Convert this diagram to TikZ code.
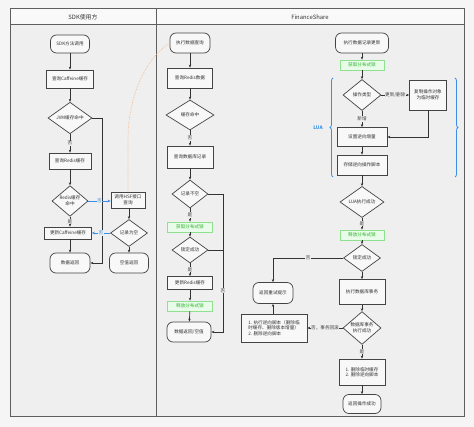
\documentclass[tikz,border=0pt]{standalone}
\usepackage{fontspec}
\setmainfont{Noto Sans CJK SC}
\usetikzlibrary{shapes.geometric,arrows.meta,decorations.pathreplacing}
\definecolor{pagebg}{HTML}{F5F5F5}
\definecolor{lanebg}{HTML}{EFEFEF}
\definecolor{headbg}{HTML}{F9F9F9}
\definecolor{poolline}{HTML}{5E5E5E}
\definecolor{nodeline}{HTML}{444444}
\definecolor{nodefill}{HTML}{F8F8F8}
\definecolor{arr}{HTML}{333333}
\definecolor{blueln}{HTML}{3B8EE6}
\definecolor{greenln}{HTML}{8FE08F}
\definecolor{greenfill}{HTML}{E9FBE9}
\definecolor{greentx}{HTML}{2DB52D}
\definecolor{orangeln}{HTML}{F3B98C}
\tikzset{
  every node/.style={font=\fontsize{4.6}{5.5}\selectfont, text=black!80},
  box/.style={draw=nodeline, fill=nodefill, line width=0.7pt, inner sep=1pt, align=center},
  rbox/.style={box, rounded corners=6pt},
  dia/.style={diamond, draw=nodeline, fill=nodefill, line width=0.7pt, inner sep=0pt, align=center},
  gbox/.style={draw=greenln, fill=greenfill, line width=0.6pt, text=greentx, inner sep=1pt, align=center},
  conn/.style={draw=arr, line width=0.7pt, -{Stealth[length=3pt,width=2.4pt]}},
  plain/.style={draw=arr, line width=0.7pt},
  bconn/.style={draw=blueln, line width=0.8pt, -{Stealth[length=3pt,width=2.6pt]}},
  lbl/.style={fill=lanebg, inner sep=0.6pt, text=black!75},
  blbl/.style={fill=lanebg, inner sep=0.6pt, text=blueln},
}
\begin{document}
\begin{tikzpicture}[x=1pt,y=-1pt]
\useasboundingbox (0,0) rectangle (474,427);
\fill[pagebg] (0,0) rectangle (474,427);
% pool
\fill[lanebg] (10,9) rectangle (464,417);
\fill[headbg] (10,9) rectangle (464,25);
\draw[poolline, line width=1pt] (10,9) rectangle (464,417);
\draw[poolline, line width=1pt] (10,25) -- (464,25);
\draw[poolline, line width=1pt] (156,9) -- (156,417);
\node[font=\fontsize{5.9}{6.5}\selectfont] (t1) at (83,17) {SDK使用方};
\node[font=\fontsize{5.9}{6.5}\selectfont] (t2) at (310,17) {FinanceShare};

% ---------- lane 1 ----------
\node[rbox, minimum width=39pt, minimum height=18pt] (sdk) at (70,44) {SDK方法调用};
\node[box, minimum width=47pt, minimum height=18pt] (cq) at (70,79) {查询Caffeine缓存};
\node[dia, minimum width=44pt, minimum height=30pt] (jvm) at (70,118) {JVM缓存命中};
\node[box, minimum width=42pt, minimum height=16pt] (rq) at (70,161) {查询Redis缓存};
\node[dia, minimum width=36pt, minimum height=25pt] (redis) at (70,201) {Redis缓存\\命中};
\node[box, minimum width=34pt, minimum height=16pt] (hsf) at (128,200) {调用HSF接口\\查询};
\node[box, minimum width=47pt, minimum height=12pt] (upd) at (68,233) {更新Caffeine缓存};
\node[dia, minimum width=37pt, minimum height=27pt] (empty) at (129,233) {记录为空};
\node[rbox, minimum width=40pt, minimum height=20pt] (ret1) at (70,263) {数据返回};
\node[rbox, minimum width=39pt, minimum height=20pt] (ret2) at (129,263) {空值返回};

\draw[conn] (sdk) -- (cq);
\draw[conn] (cq) -- (jvm);
\draw[conn] (jvm) -- node[lbl] {否} (rq);
\draw[conn] (jvm.east) -- (102,118) |- (ret1.east);
\draw[conn] (rq) -- (redis);
\draw[bconn] (redis.east) -- node[blbl] {否} (hsf.west |- redis.east);
\draw[conn] (redis) -- node[lbl] {是} (redis |- upd.north);
\draw[conn] (hsf.south -| empty.north) -- (empty.north);
\draw[bconn] (empty.west) -- node[blbl] {否} (upd.east);
\draw[conn] (upd.south -| ret1.north) -- (ret1.north);
\draw[conn] (empty) -- (ret2);

% ---------- lane 2, query ----------
\node[rbox, minimum width=40pt, minimum height=20pt] (q1) at (190,43) {执行数据查询};
\node[box, minimum width=45pt, minimum height=20pt] (q2) at (190,78) {查询Redis数据};
\node[dia, minimum width=48pt, minimum height=30pt] (hit) at (190,115) {缓存命中};
\node[box, minimum width=46pt, minimum height=22pt] (dbq) at (190,157) {查询数据库记录};
\node[dia, minimum width=36pt, minimum height=28pt] (nonempty) at (190,194) {记录不空};
\node[gbox, minimum width=45pt, minimum height=10pt] (lock1) at (190,227) {获取分布式锁};
\node[dia, minimum width=36pt, minimum height=26pt] (locked1) at (190,250) {锁定成功};
\node[box, minimum width=45pt, minimum height=13pt] (updr) at (190,283) {更新Redis缓存};
\node[gbox, minimum width=45pt, minimum height=10pt] (rel1) at (190,306) {释放分布式锁};
\node[rbox, minimum width=44pt, minimum height=20pt] (ret3) at (189,332) {数据返回/空值};

\draw[conn] (q1) -- (q2);
\draw[conn] (q2) -- (hit);
\draw[conn] (hit) -- node[lbl] {否} (dbq);
\draw[conn] (dbq) -- (nonempty);
\draw[conn] (nonempty) -- node[lbl] {是} (lock1);
\draw[conn] (lock1) -- (locked1);
\draw[conn] (locked1) -- node[lbl] {是} (updr);
\draw[conn] (updr) -- (rel1);
\draw[conn] (rel1) -- (ret3);
\draw[conn] (nonempty.east) -- (223,194) -- node[lbl, pos=0.7] {否} (223,332) -- (ret3.east);
\draw[plain] (locked1.east) -- (223,250);

% orange dashed link
\draw[orangeln, line width=0.7pt, densely dotted] (q1.west) .. controls (150,55) and (128,90) .. (128,140) -- (hsf.north);

% ---------- lane 2, update ----------
\node[rbox, minimum width=53pt, minimum height=20pt] (u1) at (362,43) {执行数据记录更新};
\node[gbox, minimum width=44pt, minimum height=10pt] (lock2) at (362,65) {获取分布式锁};
\node[dia, minimum width=38pt, minimum height=31pt] (optype) at (362,95) {操作类型};
\node[box, minimum width=37pt, minimum height=30pt] (copy) at (428,95) {复制操作对象\\为临时缓存};
\node[box, minimum width=50pt, minimum height=19pt] (setinc) at (362,137) {设置逆向增量};
\node[box, minimum width=50pt, minimum height=20pt] (store) at (362,165) {存储逆向操作脚本};
\node[dia, minimum width=44pt, minimum height=28pt] (luaok) at (362,202) {LUA执行成功};
\node[gbox, minimum width=44pt, minimum height=10pt] (rel2) at (362,235) {释放分布式锁};
\node[dia, minimum width=37pt, minimum height=27pt] (locked2) at (362,258) {锁定成功};
\node[box, minimum width=46pt, minimum height=25pt] (dbtx) at (362,292) {执行数据库事务};
\node[dia, minimum width=38pt, minimum height=30pt] (dbok) at (362,328) {数据库事务\\执行成功};
\node[box, minimum width=46pt, minimum height=26pt, align=left] (clean) at (362,372) {1. 删除临时缓存\\2. 删除逆向脚本};
\node[rbox, minimum width=38pt, minimum height=19pt] (succ) at (362,404) {返回操作成功};
\node[box, minimum width=66pt, minimum height=28pt, align=left] (rollback) at (274,328) {1. 执行逆向脚本（删除临\\时缓存、删除版本增量）\\2. 删除逆向脚本};
\node[rbox, minimum width=40pt, minimum height=21pt] (retry) at (273,293) {返回重试提示};

\draw[conn] (u1) -- (lock2);
\draw[conn] (lock2) -- (optype);
\draw[conn] (optype) -- node[lbl] {更新/删除} (copy);
\draw[conn] (optype) -- node[lbl] {新增} (setinc);
\draw[conn] (copy.south) |- (setinc.east);
\draw[conn] (setinc) -- (store);
\draw[conn] (store) -- (luaok);
\draw[conn] (luaok) -- node[lbl] {是} (rel2);
\draw[conn] (rel2) -- (locked2);
\draw[conn] (locked2) -- (dbtx);
\draw[conn] (dbtx) -- (dbok);
\draw[conn] (dbok) -- node[lbl] {是} (clean);
\draw[conn] (clean) -- (succ);
\draw[conn] (dbok.west) -- node[lbl] {否，事务回滚} (rollback.east);
\draw[conn] (rollback.north -| retry.south) -- (retry.south);
\draw[conn] (locked2.west) -- node[lbl] {否} (retry.north |- locked2.west) -- (retry.north);

% LUA braces
\draw[blueln, line width=0.8pt, decorate, decoration={brace, amplitude=3pt}] (333,177) -- (333,78);
\draw[blueln, line width=0.8pt, decorate, decoration={brace, amplitude=3pt}] (455,78) -- (455,177);
\node[text=blueln, font=\fontsize{4.8}{5.5}\selectfont\bfseries] (lua) at (318,128) {LUA};
\end{tikzpicture}
\end{document}
